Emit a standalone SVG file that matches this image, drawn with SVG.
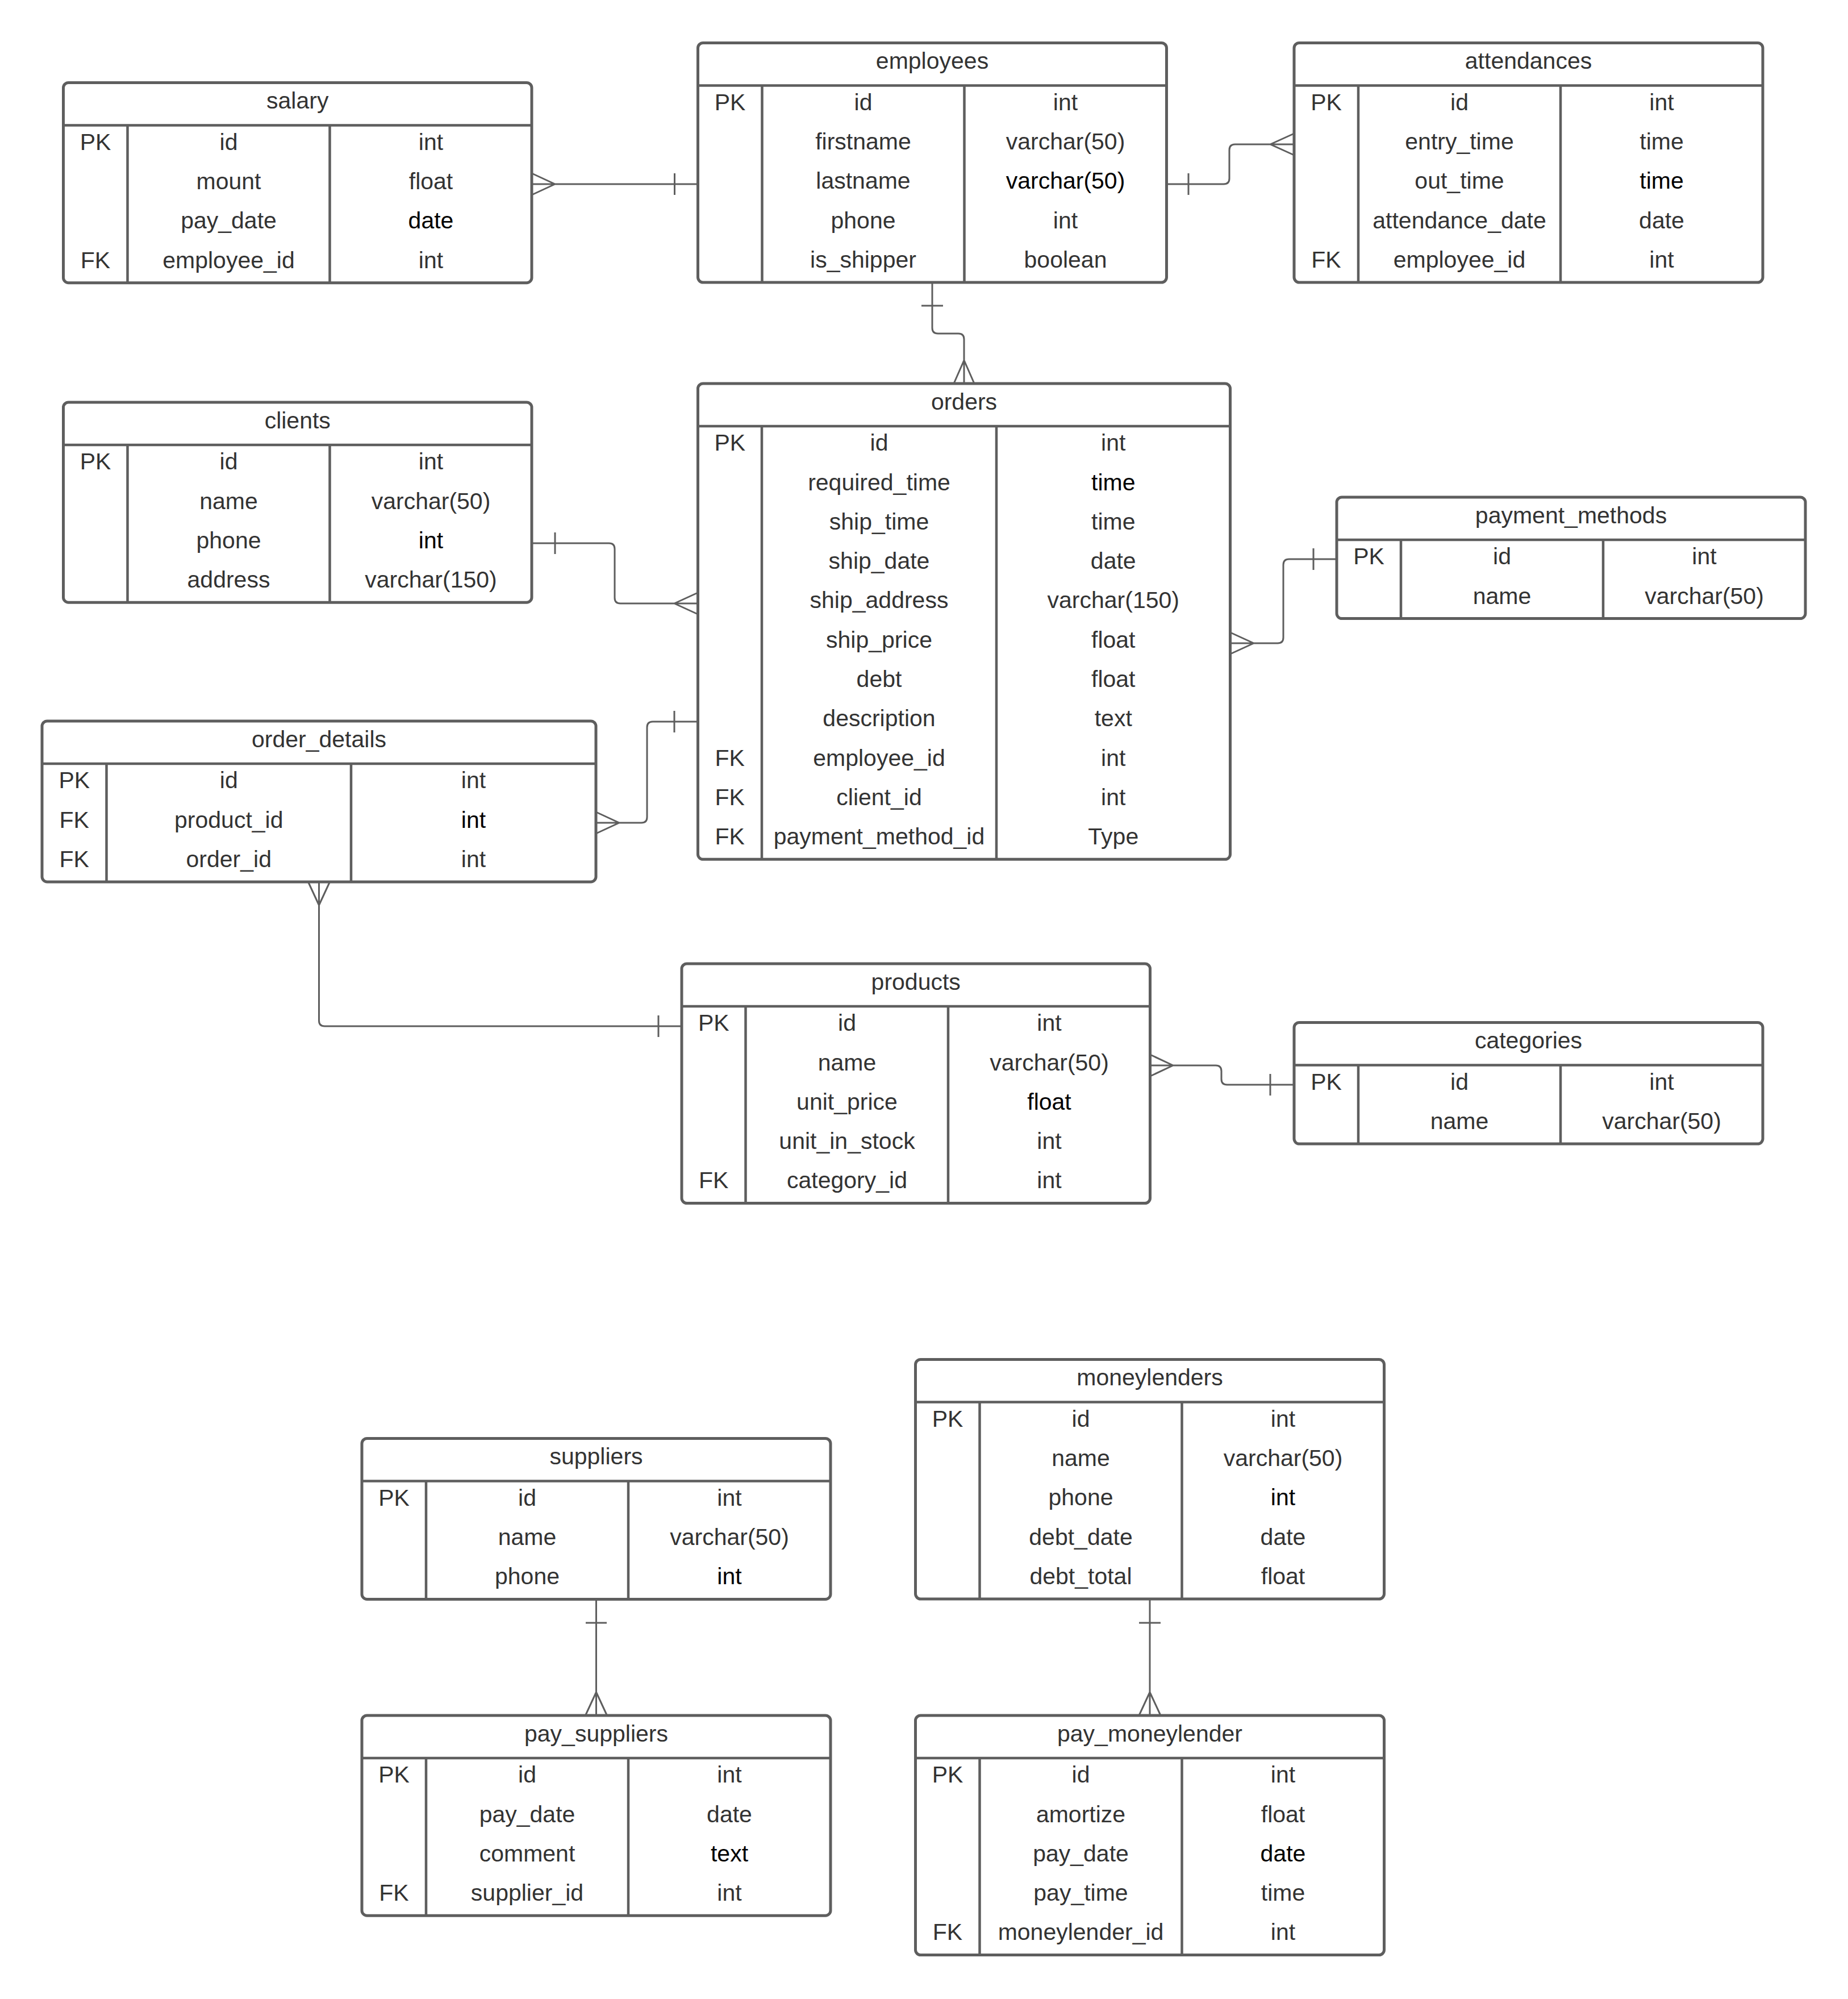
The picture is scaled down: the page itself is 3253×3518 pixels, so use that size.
<svg xmlns="http://www.w3.org/2000/svg" width="3253" height="3518" viewBox="0 0 3253 3518">
<style>
.bg{fill:#fff}
.box{fill:#fff;stroke:#5e5e5e;stroke-width:5}
.ln{stroke:#5e5e5e;stroke-width:4.5;fill:none}
.t{font-family:"Liberation Sans",Arial,sans-serif;font-size:41px;fill:#333;text-anchor:middle}
.k{fill:#000}
.c{fill:none;stroke:#5e5e5e;stroke-width:3;stroke-linejoin:round}
</style>
<rect class="bg" x="0" y="0" width="3253" height="3518"/>

<g id="connectors">
  <path class="c" d="M936,324 H1228.5 M936,305 L977,324 L936,343 M1187.5,305 V343"/>
  <path class="c" d="M2053.5,324 H2154 Q2164,324 2164,314 V264 Q2164,254 2174,254 H2278 M2092,305 V343 M2278,235 L2236,254 L2278,273"/>
  <path class="c" d="M1641,496.5 V577 Q1641,587 1651,587 H1687 Q1697,587 1697,597 V675 M1622,538 H1660 M1679,675 L1697,634 L1715,675"/>
  <path class="c" d="M936,956 H1072 Q1082,956 1082,966 V1052 Q1082,1062 1092,1062 H1228.5 M977,937 V975 M1228.5,1043 L1187,1062 L1228.5,1081"/>
  <path class="c" d="M1228.5,1270 H1149 Q1139,1270 1139,1280 V1438 Q1139,1448 1129,1448 H1049 M1187,1251 V1289 M1049,1429 L1090,1448 L1049,1467"/>
  <path class="c" d="M2165.5,1132 H2249 Q2259,1132 2259,1122 V994 Q2259,984 2269,984 H2353 M2165.5,1113 L2207,1132 L2165.5,1151 M2312,965 V1003"/>
  <path class="c" d="M561.5,1552 V1796 Q561.5,1806 571.5,1806 H1200 M542.5,1552 L561.5,1593 L580.5,1552 M1159,1787 V1825"/>
  <path class="c" d="M2024.5,1875 H2140 Q2150,1875 2150,1885 V1899 Q2150,1909 2160,1909 H2278 M2024.5,1856 L2065,1875 L2024.5,1894 M2236,1890 V1928"/>
  <path class="c" d="M1049.5,2814.5 V3019 M1031,2856 H1068 M1030.5,3019 L1049.5,2978 L1068.5,3019"/>
  <path class="c" d="M2024,2814 V3019 M2005,2856 H2043 M2005,3019 L2024,2978 L2043,3019"/>
</g>

<g id="salary" transform="translate(111.5,145.5)">
  <rect class="box" x="0" y="0" width="824.5" height="352.2" rx="9"/>
  <path class="ln" d="M0,75 H824.5 M113,75 V352.2 M469,75 V352.2"/>
  <text class="t" x="412.25" y="45.5">salary</text>
  <text class="t" x="56.5" y="118.2">PK</text><text class="t" x="291" y="118.2">id</text><text class="t" x="647" y="118.2">int</text>
  <text class="t" x="291" y="187.5">mount</text><text class="t" x="647" y="187.5">float</text>
  <text class="t" x="291" y="256.8">pay_date</text><text class="t k" x="647" y="256.8">date</text>
  <text class="t" x="56.5" y="326.1">FK</text><text class="t" x="291" y="326.1">employee_id</text><text class="t" x="647" y="326.1">int</text>
</g>

<g id="employees" transform="translate(1228.5,75.5)">
  <rect class="box" x="0" y="0" width="825" height="421.5" rx="9"/>
  <path class="ln" d="M0,75 H825 M113,75 V421.5 M469,75 V421.5"/>
  <text class="t" x="412.5" y="45.5">employees</text>
  <text class="t" x="56.5" y="118.2">PK</text><text class="t" x="291" y="118.2">id</text><text class="t" x="647" y="118.2">int</text>
  <text class="t" x="291" y="187.5">firstname</text><text class="t" x="647" y="187.5">varchar(50)</text>
  <text class="t" x="291" y="256.8">lastname</text><text class="t k" x="647" y="256.8">varchar(50)</text>
  <text class="t" x="291" y="326.1">phone</text><text class="t" x="647" y="326.1">int</text>
  <text class="t" x="291" y="395.4">is_shipper</text><text class="t" x="647" y="395.4">boolean</text>
</g>

<g id="attendances" transform="translate(2278,75.5)">
  <rect class="box" x="0" y="0" width="825" height="421.5" rx="9"/>
  <path class="ln" d="M0,75 H825 M113,75 V421.5 M469,75 V421.5"/>
  <text class="t" x="412.5" y="45.5">attendances</text>
  <text class="t" x="56.5" y="118.2">PK</text><text class="t" x="291" y="118.2">id</text><text class="t" x="647" y="118.2">int</text>
  <text class="t" x="291" y="187.5">entry_time</text><text class="t" x="647" y="187.5">time</text>
  <text class="t" x="291" y="256.8">out_time</text><text class="t k" x="647" y="256.8">time</text>
  <text class="t" x="291" y="326.1">attendance_date</text><text class="t" x="647" y="326.1">date</text>
  <text class="t" x="56.5" y="395.4">FK</text><text class="t" x="291" y="395.4">employee_id</text><text class="t" x="647" y="395.4">int</text>
</g>

<g id="clients" transform="translate(111.5,708)">
  <rect class="box" x="0" y="0" width="824.5" height="352.2" rx="9"/>
  <path class="ln" d="M0,75 H824.5 M113,75 V352.2 M469,75 V352.2"/>
  <text class="t" x="412.25" y="45.5">clients</text>
  <text class="t" x="56.5" y="118.2">PK</text><text class="t" x="291" y="118.2">id</text><text class="t" x="647" y="118.2">int</text>
  <text class="t" x="291" y="187.5">name</text><text class="t" x="647" y="187.5">varchar(50)</text>
  <text class="t" x="291" y="256.8">phone</text><text class="t k" x="647" y="256.8">int</text>
  <text class="t" x="291" y="326.1">address</text><text class="t" x="647" y="326.1">varchar(150)</text>
</g>

<g id="orders" transform="translate(1228.5,675)">
  <rect class="box" x="0" y="0" width="937" height="837.3" rx="9"/>
  <path class="ln" d="M0,75 H937 M112.5,75 V837.3 M525.5,75 V837.3"/>
  <text class="t" x="468.5" y="45.5">orders</text>
  <text class="t" x="56.25" y="118.2">PK</text><text class="t" x="319" y="118.2">id</text><text class="t" x="731.25" y="118.2">int</text>
  <text class="t" x="319" y="187.5">required_time</text><text class="t k" x="731.25" y="187.5">time</text>
  <text class="t" x="319" y="256.8">ship_time</text><text class="t" x="731.25" y="256.8">time</text>
  <text class="t" x="319" y="326.1">ship_date</text><text class="t" x="731.25" y="326.1">date</text>
  <text class="t" x="319" y="395.4">ship_address</text><text class="t" x="731.25" y="395.4">varchar(150)</text>
  <text class="t" x="319" y="464.7">ship_price</text><text class="t" x="731.25" y="464.7">float</text>
  <text class="t" x="319" y="534">debt</text><text class="t" x="731.25" y="534">float</text>
  <text class="t" x="319" y="603.3">description</text><text class="t" x="731.25" y="603.3">text</text>
  <text class="t" x="56.25" y="672.6">FK</text><text class="t" x="319" y="672.6">employee_id</text><text class="t" x="731.25" y="672.6">int</text>
  <text class="t" x="56.25" y="741.9">FK</text><text class="t" x="319" y="741.9">client_id</text><text class="t" x="731.25" y="741.9">int</text>
  <text class="t" x="56.25" y="811.2">FK</text><text class="t" x="319" y="811.2">payment_method_id</text><text class="t" x="731.25" y="811.2">Type</text>
</g>

<g id="payment_methods" transform="translate(2353,875)">
  <rect class="box" x="0" y="0" width="825" height="213.6" rx="9"/>
  <path class="ln" d="M0,75 H825 M113,75 V213.6 M469,75 V213.6"/>
  <text class="t" x="412.5" y="45.5">payment_methods</text>
  <text class="t" x="56.5" y="118.2">PK</text><text class="t" x="291" y="118.2">id</text><text class="t" x="647" y="118.2">int</text>
  <text class="t" x="291" y="187.5">name</text><text class="t" x="647" y="187.5">varchar(50)</text>
</g>

<g id="order_details" transform="translate(74,1269)">
  <rect class="box" x="0" y="0" width="975" height="282.9" rx="9"/>
  <path class="ln" d="M0,75 H975 M113.5,75 V282.9 M544,75 V282.9"/>
  <text class="t" x="487.5" y="45.5">order_details</text>
  <text class="t" x="56.75" y="118.2">PK</text><text class="t" x="328.75" y="118.2">id</text><text class="t" x="759.5" y="118.2">int</text>
  <text class="t" x="56.75" y="187.5">FK</text><text class="t" x="328.75" y="187.5">product_id</text><text class="t k" x="759.5" y="187.5">int</text>
  <text class="t" x="56.75" y="256.8">FK</text><text class="t" x="328.75" y="256.8">order_id</text><text class="t" x="759.5" y="256.8">int</text>
</g>

<g id="products" transform="translate(1200,1696)">
  <rect class="box" x="0" y="0" width="824.5" height="421.5" rx="9"/>
  <path class="ln" d="M0,75 H824.5 M112.5,75 V421.5 M469,75 V421.5"/>
  <text class="t" x="412.25" y="45.5">products</text>
  <text class="t" x="56.25" y="118.2">PK</text><text class="t" x="291" y="118.2">id</text><text class="t" x="647" y="118.2">int</text>
  <text class="t" x="291" y="187.5">name</text><text class="t" x="647" y="187.5">varchar(50)</text>
  <text class="t" x="291" y="256.8">unit_price</text><text class="t k" x="647" y="256.8">float</text>
  <text class="t" x="291" y="326.1">unit_in_stock</text><text class="t" x="647" y="326.1">int</text>
  <text class="t" x="56.25" y="395.4">FK</text><text class="t" x="291" y="395.4">category_id</text><text class="t" x="647" y="395.4">int</text>
</g>

<g id="categories" transform="translate(2278,1799.5)">
  <rect class="box" x="0" y="0" width="825" height="213.6" rx="9"/>
  <path class="ln" d="M0,75 H825 M113,75 V213.6 M469,75 V213.6"/>
  <text class="t" x="412.5" y="45.5">categories</text>
  <text class="t" x="56.5" y="118.2">PK</text><text class="t" x="291" y="118.2">id</text><text class="t" x="647" y="118.2">int</text>
  <text class="t" x="291" y="187.5">name</text><text class="t" x="647" y="187.5">varchar(50)</text>
</g>

<g id="suppliers" transform="translate(637,2531.5)">
  <rect class="box" x="0" y="0" width="825" height="282.9" rx="9"/>
  <path class="ln" d="M0,75 H825 M113,75 V282.9 M469,75 V282.9"/>
  <text class="t" x="412.5" y="45.5">suppliers</text>
  <text class="t" x="56.5" y="118.2">PK</text><text class="t" x="291" y="118.2">id</text><text class="t" x="647" y="118.2">int</text>
  <text class="t" x="291" y="187.5">name</text><text class="t" x="647" y="187.5">varchar(50)</text>
  <text class="t" x="291" y="256.8">phone</text><text class="t k" x="647" y="256.8">int</text>
</g>

<g id="pay_suppliers" transform="translate(637,3019)">
  <rect class="box" x="0" y="0" width="825" height="352.2" rx="9"/>
  <path class="ln" d="M0,75 H825 M113,75 V352.2 M469,75 V352.2"/>
  <text class="t" x="412.5" y="45.5">pay_suppliers</text>
  <text class="t" x="56.5" y="118.2">PK</text><text class="t" x="291" y="118.2">id</text><text class="t" x="647" y="118.2">int</text>
  <text class="t" x="291" y="187.5">pay_date</text><text class="t" x="647" y="187.5">date</text>
  <text class="t" x="291" y="256.8">comment</text><text class="t k" x="647" y="256.8">text</text>
  <text class="t" x="56.5" y="326.1">FK</text><text class="t" x="291" y="326.1">supplier_id</text><text class="t" x="647" y="326.1">int</text>
</g>

<g id="moneylenders" transform="translate(1611.5,2392.5)">
  <rect class="box" x="0" y="0" width="825" height="421.5" rx="9"/>
  <path class="ln" d="M0,75 H825 M113,75 V421.5 M469,75 V421.5"/>
  <text class="t" x="412.5" y="45.5">moneylenders</text>
  <text class="t" x="56.5" y="118.2">PK</text><text class="t" x="291" y="118.2">id</text><text class="t" x="647" y="118.2">int</text>
  <text class="t" x="291" y="187.5">name</text><text class="t" x="647" y="187.5">varchar(50)</text>
  <text class="t" x="291" y="256.8">phone</text><text class="t k" x="647" y="256.8">int</text>
  <text class="t" x="291" y="326.1">debt_date</text><text class="t" x="647" y="326.1">date</text>
  <text class="t" x="291" y="395.4">debt_total</text><text class="t" x="647" y="395.4">float</text>
</g>

<g id="pay_moneylender" transform="translate(1611.5,3019)">
  <rect class="box" x="0" y="0" width="825" height="421.5" rx="9"/>
  <path class="ln" d="M0,75 H825 M113,75 V421.5 M469,75 V421.5"/>
  <text class="t" x="412.5" y="45.5">pay_moneylender</text>
  <text class="t" x="56.5" y="118.2">PK</text><text class="t" x="291" y="118.2">id</text><text class="t" x="647" y="118.2">int</text>
  <text class="t" x="291" y="187.5">amortize</text><text class="t" x="647" y="187.5">float</text>
  <text class="t" x="291" y="256.8">pay_date</text><text class="t k" x="647" y="256.8">date</text>
  <text class="t" x="291" y="326.1">pay_time</text><text class="t" x="647" y="326.1">time</text>
  <text class="t" x="56.5" y="395.4">FK</text><text class="t" x="291" y="395.4">moneylender_id</text><text class="t" x="647" y="395.4">int</text>
</g>
</svg>
